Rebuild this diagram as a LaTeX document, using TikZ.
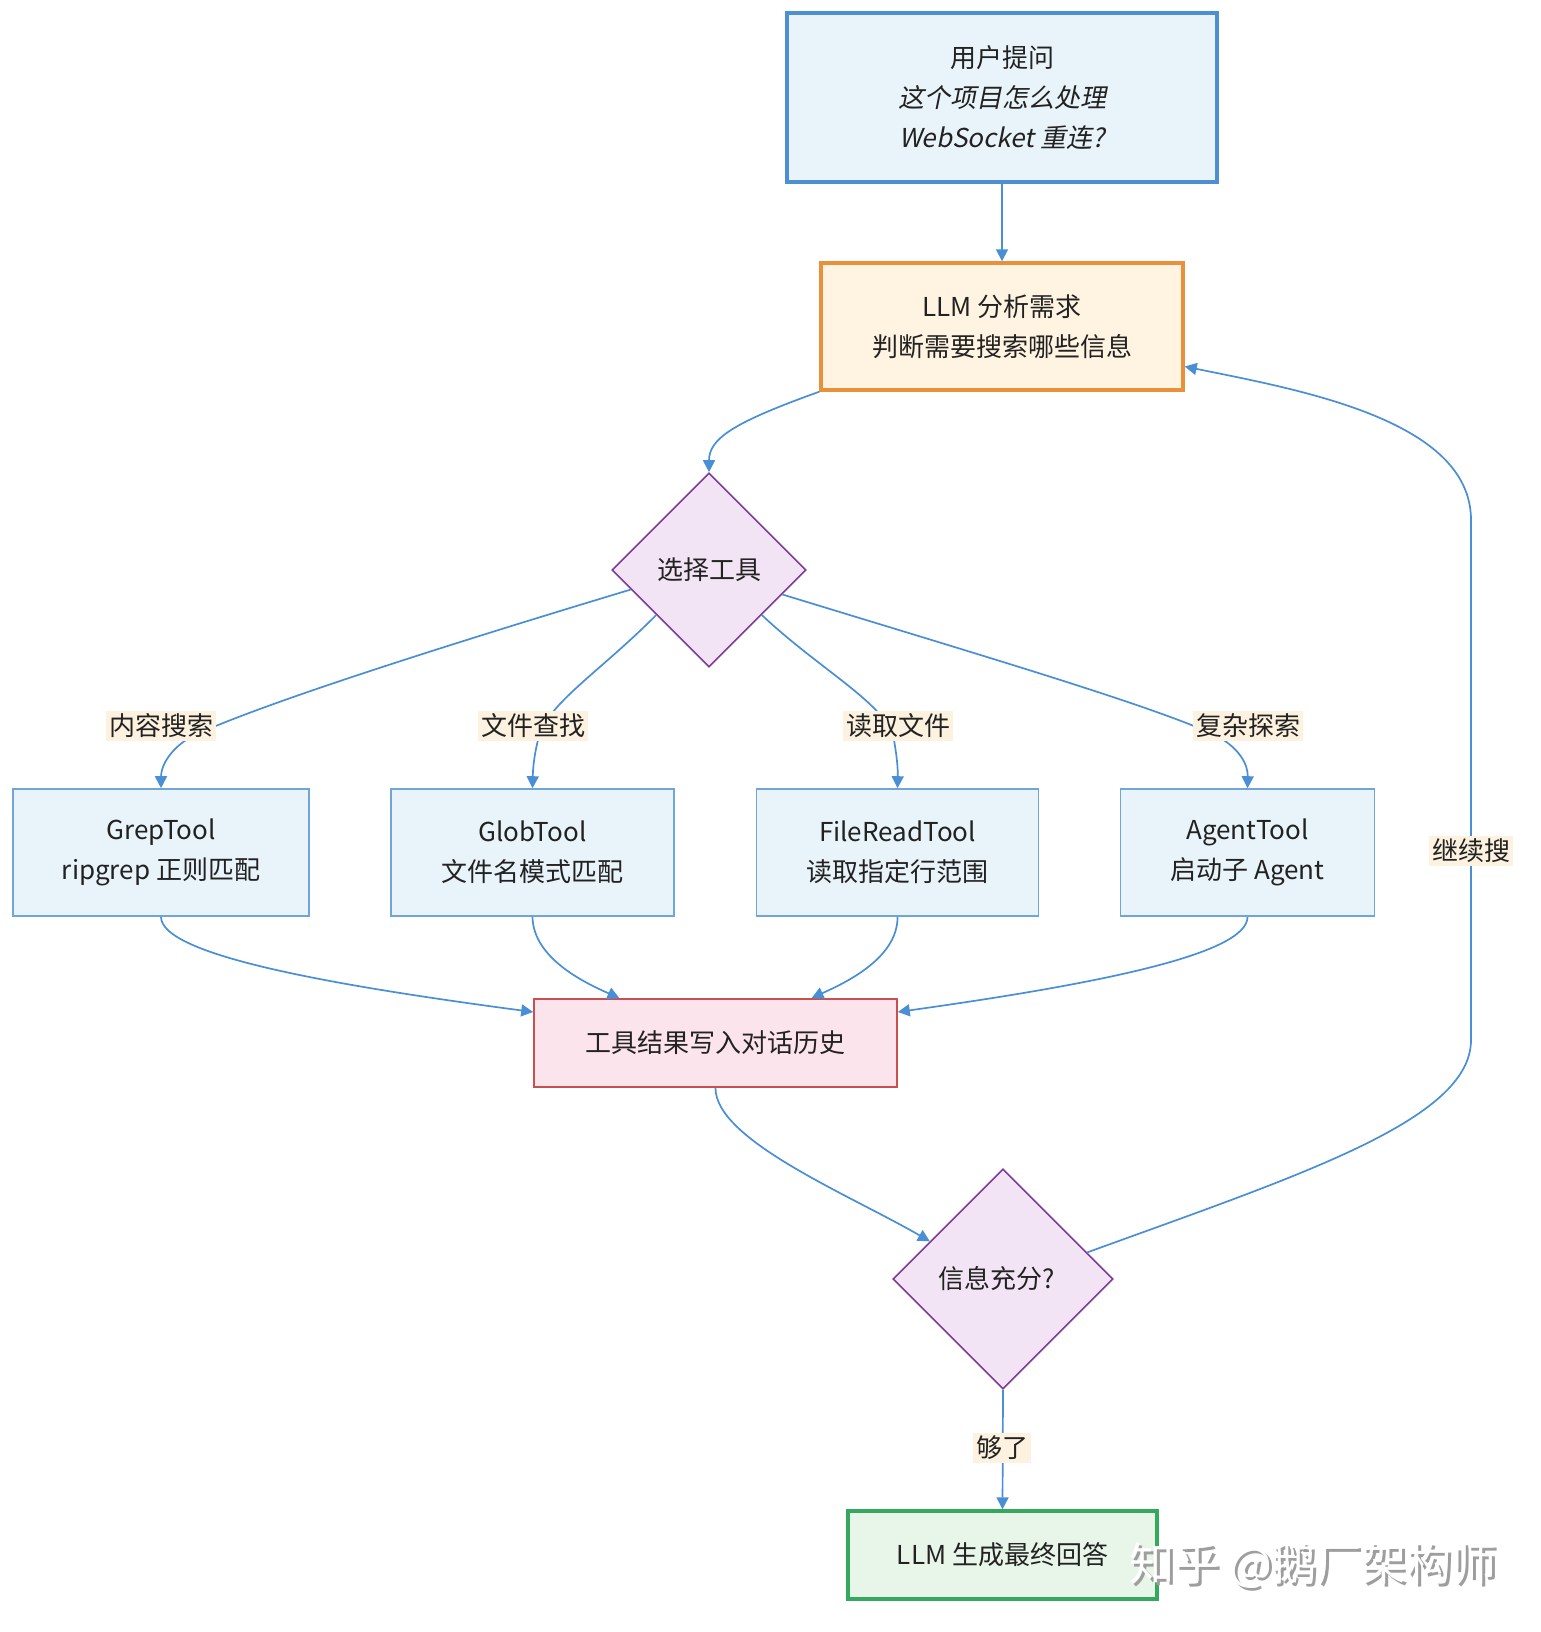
\documentclass[tikz,border=0pt]{standalone}
\usepackage{fontspec}
\setmainfont{Noto Sans CJK SC}
\newfontfamily\slantcjk[FakeSlant=0.2]{Noto Sans CJK SC}
\usetikzlibrary{shapes.geometric,arrows.meta,calc}
\definecolor{edgeblue}{HTML}{4A8FD6}
\definecolor{txt}{HTML}{222222}
\definecolor{qfill}{HTML}{E9F3FA}
\definecolor{qdraw}{HTML}{4D8FD1}
\definecolor{afill}{HTML}{FFF3E1}
\definecolor{adraw}{HTML}{E8913A}
\definecolor{dfill}{HTML}{F3E4F5}
\definecolor{ddraw}{HTML}{7E3C98}
\definecolor{tfill}{HTML}{E9F3FA}
\definecolor{tdraw}{HTML}{6FA6D6}
\definecolor{rfill}{HTML}{FCE4EC}
\definecolor{rdraw}{HTML}{C8504F}
\definecolor{ffill}{HTML}{E8F5E9}
\definecolor{fdraw}{HTML}{34A85C}
\definecolor{lblbg}{HTML}{FDF1DF}
\begin{document}
\begin{tikzpicture}[x=1pt,y=-1pt,
  every node/.style={font=\fontsize{26pt}{40pt}\selectfont, text=txt, align=center},
  boxthick/.style={draw, rectangle, inner sep=0pt, line width=3.4pt},
  boxthin/.style={draw, rectangle, inner sep=0pt, line width=1.6pt},
  dia/.style={draw=ddraw, fill=dfill, diamond, aspect=1, inner sep=0pt, line width=1.6pt},
  edge/.style={draw=edgeblue, line width=1.7pt, -{Triangle[length=12pt,width=12pt]}},
  lbl/.style={fill=lblbg, inner sep=3pt}]
\useasboundingbox (0,0) rectangle (1540,1632);

% nodes
\node[boxthick, draw=qdraw, fill=qfill, minimum width=430pt, minimum height=169pt] (q) at (1002,97.5)
  {用户提问\\{\slantcjk 这个项目怎么处理}\\{\slantcjk WebSocket 重连?}};
\node[boxthick, draw=adraw, fill=afill, minimum width=362pt, minimum height=127pt] (llm) at (1002,326.5)
  {LLM 分析需求\\判断需要搜索哪些信息};
\node[dia, minimum width=194pt, minimum height=194pt] (d1) at (709,570) {选择工具};
\node[boxthin, draw=tdraw, fill=tfill, minimum width=296pt, minimum height=127pt] (grep) at (161,852.5)
  {GrepTool\\ripgrep 正则匹配};
\node[boxthin, draw=tdraw, fill=tfill, minimum width=283pt, minimum height=127pt] (glob) at (532.5,852.5)
  {GlobTool\\文件名模式匹配};
\node[boxthin, draw=tdraw, fill=tfill, minimum width=282pt, minimum height=127pt] (fread) at (897.5,852.5)
  {FileReadTool\\读取指定行范围};
\node[boxthin, draw=tdraw, fill=tfill, minimum width=254pt, minimum height=127pt] (agent) at (1247.5,852.5)
  {AgentTool\\启动子 Agent};
\node[boxthin, draw=rdraw, fill=rfill, minimum width=363pt, minimum height=88pt] (res) at (715.5,1043)
  {工具结果写入对话历史};
\node[dia, minimum width=220pt, minimum height=220pt] (d2) at (1003,1279) {\hspace*{-12pt}信息充分?};
\node[boxthick, draw=fdraw, fill=ffill, minimum width=309pt, minimum height=88pt] (fin) at (1002.5,1555)
  {LLM 生成最终回答};

% edges
\draw[edge] (q.south) -- (llm.north);
\draw[edge] (llm.south west) .. controls (735,422) and (709,438) .. (d1.north);
\draw[edge] ($(d1.west)!0.2!(d1.south)$) .. controls (430,650) and (260,705) .. (195,735)
  .. controls (172,746) and (161,765) .. (grep.north);
\draw[edge] ($(d1.west)!0.46!(d1.south)$) .. controls (600,672) and (545,705) .. (538,740)
  .. controls (535,752) and (533,765) .. (glob.north);
\draw[edge] ($(d1.east)!0.46!(d1.south)$) .. controls (820,670) and (888,705) .. (894,740)
  .. controls (896,752) and (898,765) .. (fread.north);
\draw[edge] ($(d1.east)!0.25!(d1.south)$) .. controls (980,655) and (1150,705) .. (1215,735)
  .. controls (1240,748) and (1248,765) .. (agent.north);
\draw[edge] (grep.south) .. controls (161,955) and (330,985) .. ($(res.west)+(0,-31)$);
\draw[edge] (glob.south) .. controls (533,960) and (590,985) .. ($(res.north)+(-96,0)$);
\draw[edge] (fread.south) .. controls (898,960) and (840,985) .. ($(res.north)+(96,0)$);
\draw[edge] (agent.south) .. controls (1248,955) and (1090,985) .. ($(res.east)+(0,-31)$);
\draw[edge] (res.south) .. controls (715,1140) and (850,1195) .. ($(d2.west)!0.34!(d2.north)$);
\draw[edge] ($(d2.east)!0.24!(d2.north)$) .. controls (1300,1175) and (1471,1120) .. (1471,1040)
  -- (1471,520) .. controls (1471,420) and (1300,390) .. ($(llm.east)+(0,40)$);
\draw[edge] (d2.south) -- (fin.north);

% labels
\node[lbl] (l1) at (161,726) {内容搜索};
\node[lbl] (l2) at (533,726) {文件查找};
\node[lbl] (l3) at (898,726) {读取文件};
\node[lbl] (l4) at (1248,726) {复杂探索};
\node[lbl] (l5) at (1471,851) {继续搜};
\node[lbl] (l6) at (1002,1448) {够了};

% watermark
\node[font=\fontsize{45pt}{45pt}\selectfont, text=black!38] (wm0) at (1316,1568) {知乎 @鹅厂架构师};
\node[font=\fontsize{45pt}{45pt}\selectfont, text=white] (wm) at (1313,1565) {知乎 @鹅厂架构师};
\end{tikzpicture}
\end{document}
